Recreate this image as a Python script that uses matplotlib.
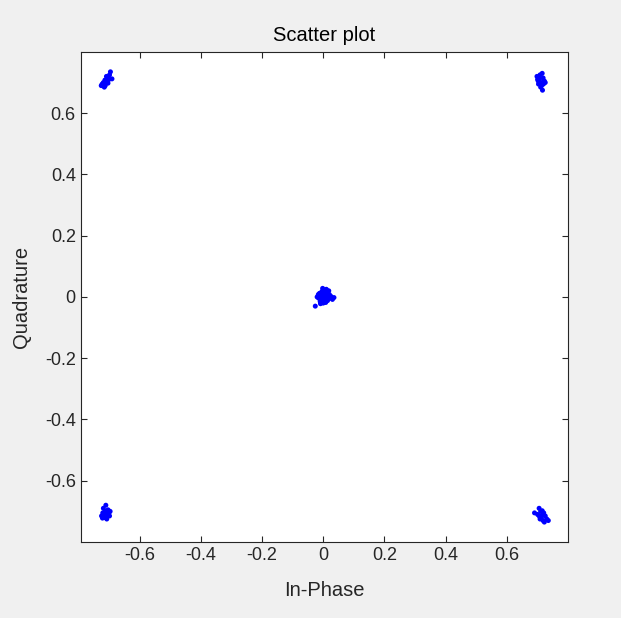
import matplotlib
matplotlib.use("Agg")
import matplotlib.pyplot as plt

plt.rcParams["font.family"] = ["Liberation Sans", "DejaVu Sans"]

center_i = [0.000, 0.005, -0.008, 0.012, -0.015, 0.020, 0.003, -0.004, 0.010, -0.010, 0.015, -0.002, 0.007, -0.012, 0.025, 0.030, -0.020, 0.000, 0.018, -0.006, 0.004, 0.012, -0.016, 0.008, -0.003, 0.022, 0.001, -0.009, 0.014, -0.026, 0.010, 0.035]
center_q = [0.000, 0.010, 0.005, -0.006, -0.004, 0.008, -0.012, 0.018, 0.022, -0.015, -0.002, 0.028, 0.000, 0.012, 0.002, -0.008, 0.000, -0.020, 0.020, -0.006, 0.004, 0.012, 0.008, -0.018, -0.010, -0.004, 0.015, -0.022, -0.012, -0.030, 0.025, -0.002]
tl_i = [-0.710, -0.705, -0.718, -0.700, -0.712, -0.695, -0.722, -0.708, -0.690, -0.715, -0.703, -0.725, -0.698, -0.713, -0.706]
tl_q = [0.705, 0.715, 0.700, 0.710, 0.690, 0.735, 0.695, 0.720, 0.712, 0.685, 0.698, 0.690, 0.725, 0.708, 0.702]
tr_i = [0.700, 0.708, 0.712, 0.718, 0.703, 0.715, 0.722, 0.710, 0.698, 0.713, 0.725, 0.706, 0.716, 0.702, 0.719]
tr_q = [0.710, 0.725, 0.700, 0.715, 0.695, 0.730, 0.705, 0.685, 0.720, 0.690, 0.700, 0.712, 0.675, 0.705, 0.695]
bl_i = [-0.712, -0.705, -0.720, -0.698, -0.710, -0.715, -0.700, -0.724, -0.707, -0.696, -0.718, -0.703, -0.713, -0.709, -0.721]
bl_q = [-0.700, -0.710, -0.705, -0.715, -0.680, -0.720, -0.705, -0.715, -0.725, -0.700, -0.690, -0.695, -0.710, -0.718, -0.722]
br_i = [0.690, 0.705, 0.710, 0.715, 0.700, 0.720, 0.725, 0.712, 0.708, 0.718, 0.730, 0.722, 0.705, 0.735, 0.715]
br_q = [-0.705, -0.690, -0.700, -0.698, -0.710, -0.705, -0.715, -0.720, -0.725, -0.730, -0.725, -0.735, -0.715, -0.730, -0.712]

xs = center_i + tl_i + tr_i + bl_i + br_i
ys = center_q + tl_q + tr_q + bl_q + br_q

fig = plt.figure(figsize=(6.21, 6.18), dpi=100, facecolor="#f0f0f0")
ax = fig.add_axes([0.130, 0.123, 0.785, 0.793])
ax.scatter(xs, ys, s=13, color="#0000ff", edgecolors="none")
ax.set_xlim(-0.792, 0.80)
ax.set_ylim(-0.8, 0.8)
ticks = [-0.6, -0.4, -0.2, 0, 0.2, 0.4, 0.6]
labels = ["-0.6", "-0.4", "-0.2", "0", "0.2", "0.4", "0.6"]
ax.set_xticks(ticks)
ax.set_xticklabels(labels)
ax.set_yticks(ticks)
ax.set_yticklabels(labels)
ax.tick_params(direction="in", length=4, labelsize=13, colors="#262626", top=True, right=True)
for s in ax.spines.values():
    s.set_color("#262626")
    s.set_linewidth(0.8)
ax.set_xlabel("In-Phase", fontsize=14.5, color="#262626", labelpad=12)
ax.set_ylabel("Quadrature", fontsize=14.5, color="#262626", labelpad=10)
ax.set_title("Scatter plot", fontsize=14.5, color="black", pad=8)
fig.savefig("out.png", dpi=100, facecolor=fig.get_facecolor())
